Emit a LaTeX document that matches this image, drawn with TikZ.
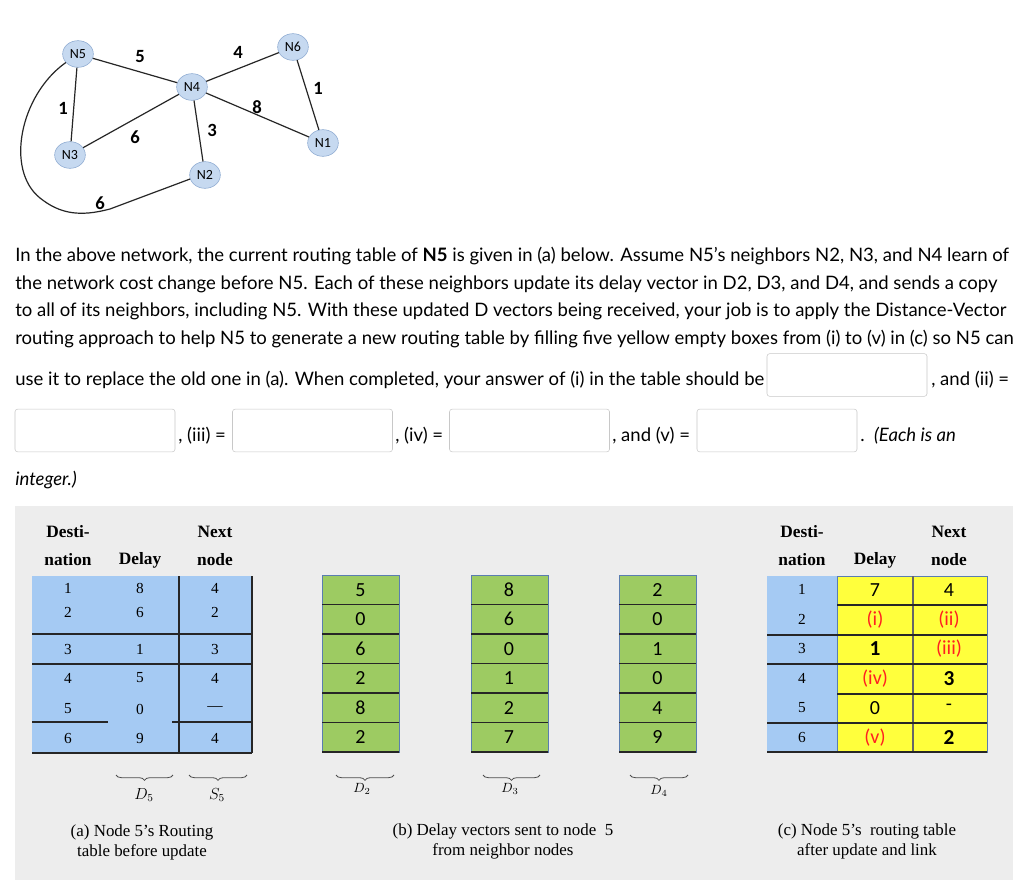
\documentclass[tikz,border=0pt]{standalone}
\usepackage{fontspec}
\setmainfont{Lato}
\newfontfamily\tabfont{Liberation Serif}
\newfontfamily\cellfont{Carlito}
\usetikzlibrary{shapes.geometric,decorations.pathreplacing}
\definecolor{nodeblue}{HTML}{C6D9F0}
\definecolor{nodeedge}{HTML}{8AA8D0}
\definecolor{tabblue}{HTML}{A5CAF3}
\definecolor{vecgreen}{HTML}{9DCB62}
\definecolor{cellyellow}{HTML}{FFFF3C}
\definecolor{panelgray}{HTML}{EDEDED}
\definecolor{boxedge}{HTML}{C8C8C8}
\definecolor{outline}{HTML}{5A7DB0}
\definecolor{ansred}{HTML}{FF2020}
\tikzset{
  net/.style={ellipse, draw=nodeedge, fill=nodeblue, minimum width=23pt, minimum height=20pt,
    inner sep=0pt, font=\cellfont\fontsize{10.5}{11}\selectfont},
  link/.style={draw=black!85, line width=0.9pt},
  cost/.style={inner sep=0pt, font=\cellfont\bfseries\fontsize{14}{14}\selectfont},
  para/.style={anchor=base west, inner sep=0pt, font=\fontsize{13.9}{16}\selectfont},
  ansbox/.style={draw=boxedge, fill=white, rounded corners=2pt, minimum width=120pt,
    minimum height=32pt, inner sep=0pt},
  head/.style={inner sep=0pt, font=\tabfont\bfseries\fontsize{13}{14}\selectfont},
  entry/.style={inner sep=0pt, font=\tabfont\fontsize{11.5}{12}\selectfont},
  vec/.style={inner sep=0pt, font=\cellfont\fontsize{15}{15}\selectfont},
  ans/.style={inner sep=0pt, text=ansred, font=\cellfont\fontsize{15}{15}\selectfont},
  bold/.style={inner sep=0pt, font=\cellfont\bfseries\fontsize{16}{16}\selectfont},
  caption/.style={inner sep=0pt, align=center, font=\tabfont\fontsize{12.7}{15}\selectfont},
  rule/.style={draw=black!85, line width=1.1pt},
  frame/.style={draw=outline, line width=0.6pt},
  ubrace/.style={decorate, decoration={brace, mirror, amplitude=4pt}, draw=black!70, line width=0.6pt}
}
\begin{document}
\begin{tikzpicture}[x=0.75pt, y=-0.75pt]
\useasboundingbox (0,0) rectangle (1024,880);
\fill [white] (0,0) rectangle (1024,880);
% network
\node [net] (N5) at (78,54) {N5};
\node [net] (N4) at (192,87) {N4};
\node [net] (N6) at (293,47) {N6};
\node [net] (N3) at (70,155) {N3};
\node [net] (N2) at (205,175) {N2};
\node [net] (N1) at (323,143) {N1};
\draw [link] (N5) -- (N4);
\draw [link] (N5) -- (N3);
\draw [link] (N4) -- (N6);
\draw [link] (N6) -- (N1);
\draw [link] (N4) -- (N1);
\draw [link] (N4) -- (N3);
\draw [link] (N4) -- (N2);
\draw [link] (N5.215) .. controls (20,95) and (5,170) .. (40,198) .. controls (60,214) and (80,217) .. (110,209) -- (N2.195);
\node [cost] (c54) at (140,57) {5};
\node [cost] (c46) at (238,52) {4};
\node [cost] (c61) at (318,88) {1};
\node [cost] (c41) at (257,107) {8};
\node [cost] (c42) at (212,130) {3};
\node [cost] (c43) at (135,137) {6};
\node [cost] (c53) at (63,108) {1};
\node [cost] (c52) at (100,203) {6};
% question text
\node [para] (l1) at (15,262) {In the above network, the current routing table of \textbf{N5} is given in (a) below. Assume N5’s neighbors N2, N3, and N4 learn of};
\node [para] (l2) at (15,290) {the network cost change before N5. Each of these neighbors update its delay vector in D2, D3, and D4, and sends a copy};
\node [para] (l3) at (15,317) {to all of its neighbors, including N5. With these updated D vectors being received, your job is to apply the Distance-Vector};
\node [para] (l4) at (15,345) {routing approach to help N5 to generate a new routing table by filling five yellow empty boxes from (i) to (v) in (c) so N5 can};
\node [para] (l5) at (15,385) {use it to replace the old one in (a). When completed, your answer of (i) in the table should be};
\node [ansbox] (box1) at (847,375) {};
\node [para] (l5b) at (931,385) {, and (ii) =};
\node [ansbox] (box2) at (95,430.5) {};
\node [para] (l6a) at (178,441) {, (iii) =};
\node [ansbox] (box3) at (312.5,430.5) {};
\node [para] (l6b) at (395,441) {, (iv) =};
\node [ansbox] (box4) at (529.5,430.5) {};
\node [para] (l6c) at (612,441) {, and (v) =};
\node [ansbox] (box5) at (777,430.5) {};
\node [para] (l6d) at (860,441) {.\ \ \textit{(Each is an}};
\node [para] (l7) at (15,485) {\textit{integer.)}};
% panel
\fill [panelgray] (15,506) rectangle (1013,880);
% (a) table before update
\node [head] (aDesti) at (68,532) {Desti-};
\node [head] (aNation) at (68,560) {nation};
\node [head] (aDelay) at (140,560) {Delay};
\node [head] (aNext) at (215,532) {Next};
\node [head] (aNode) at (215,560) {node};
\fill [tabblue] (32,576) rectangle (252,753);
\draw [rule] (32,634) -- (252,634);
\draw [rule] (32,664) -- (252,664);
\draw [rule] (32,722) -- (108,722);
\draw [rule] (172,722) -- (252,722);
\draw [rule] (32,753) -- (252,753);
\draw [rule] (179,576) -- (179,753);
\draw [rule] (252,576) -- (252,753);
\foreach \y/\dl/\nx [count=\r] in {588/8/4, 612/6/2, 649/1/3, 678/5/4, 709/0/\textemdash, 738/9/4} {
  \node [entry] (aDst\r) at (68,\y) {\r};
  \node [entry] (aDl\r) at (140,\y) {\dl};
  \node [entry] (aNx\r) at (215,\y) {\nx};
}
\draw [ubrace] (116,775) -- (173,775);
\draw [ubrace] (189,775) -- (247,775);
\node [inner sep=0pt] (D5) at (144,795) {\large$D_5$};
\node [inner sep=0pt] (S5) at (217,795) {\large$S_5$};
\node [caption] (capA) at (142,842) {(a) Node 5’s Routing\\table before update};
% (b) delay vectors
\foreach \xl in {322,471,619} {
  \fill [vecgreen] (\xl,575) rectangle ++(77,177);
  \draw [frame] (\xl,575) rectangle ++(77,177);
  \foreach \yy in {604.5,634,663.5,693,722.5,752}
    \draw [rule] (\xl,\yy) -- ++(77,0);
}
\foreach \xc/\vals [count=\v] in {360.5/{5,0,6,2,8,2}, 509/{8,6,0,1,2,7}, 657.5/{2,0,1,0,4,9}} {
  \foreach \val [count=\r] in \vals
    \node [vec] (v\v-\r) at (\xc,560.25+29.5*\r) {\val};
}
\draw [ubrace] (336,775) -- (394,775);
\draw [ubrace] (483,775) -- (540,775);
\draw [ubrace] (630,775) -- (688,775);
\node [inner sep=0pt] (D2) at (362,789) {$D_2$};
\node [inner sep=0pt] (D3) at (510,789) {$D_3$};
\node [inner sep=0pt] (D4) at (659,791) {$D_4$};
\node [caption] (capB) at (503,841) {(b) Delay vectors sent to node\ \ 5\\from neighbor nodes};
% (c) table after update
\node [head] (cDesti) at (802,532) {Desti-};
\node [head] (cNation) at (802,560) {nation};
\node [head] (cDelay) at (875,560) {Delay};
\node [head] (cNext) at (949,532) {Next};
\node [head] (cNode) at (949,560) {node};
\fill [tabblue] (767,576) rectangle (837,752);
\fill [cellyellow] (837,576) rectangle (987,752);
\draw [frame] (837,576) rectangle (987,752);
\draw [draw=black!60, line width=0.8pt] (913,576) -- (913,752);
\foreach \yy in {605,694}
  \draw [rule] (837,\yy) -- (987,\yy);
\foreach \yy in {635,664,723,752}
  \draw [rule] (767,\yy) -- (987,\yy);
\foreach \r in {1,...,6}
  \node [entry] (cDst\r) at (802,560.25+29.5*\r) {\r};
\node [vec] (cDl1) at (875,589.75) {7};
\node [vec] (cNx1) at (949,589.75) {4};
\node [ans] (cDl2) at (875,619.25) {(i)};
\node [ans] (cNx2) at (949,619.25) {(ii)};
\node [bold] (cDl3) at (875,648.75) {1};
\node [ans] (cNx3) at (949,648.75) {(iii)};
\node [ans] (cDl4) at (875,678.25) {(iv)};
\node [bold] (cNx4) at (949,678.25) {3};
\node [vec] (cDl5) at (875,707.75) {0};
\node [vec] (cNx5) at (949,707.75) {-};
\node [ans] (cDl6) at (875,737.25) {(v)};
\node [bold] (cNx6) at (949,737.25) {2};
\node [caption] (capC) at (867,841) {(c) Node 5’s\ \ routing table\\after update and link};
\end{tikzpicture}
\end{document}
